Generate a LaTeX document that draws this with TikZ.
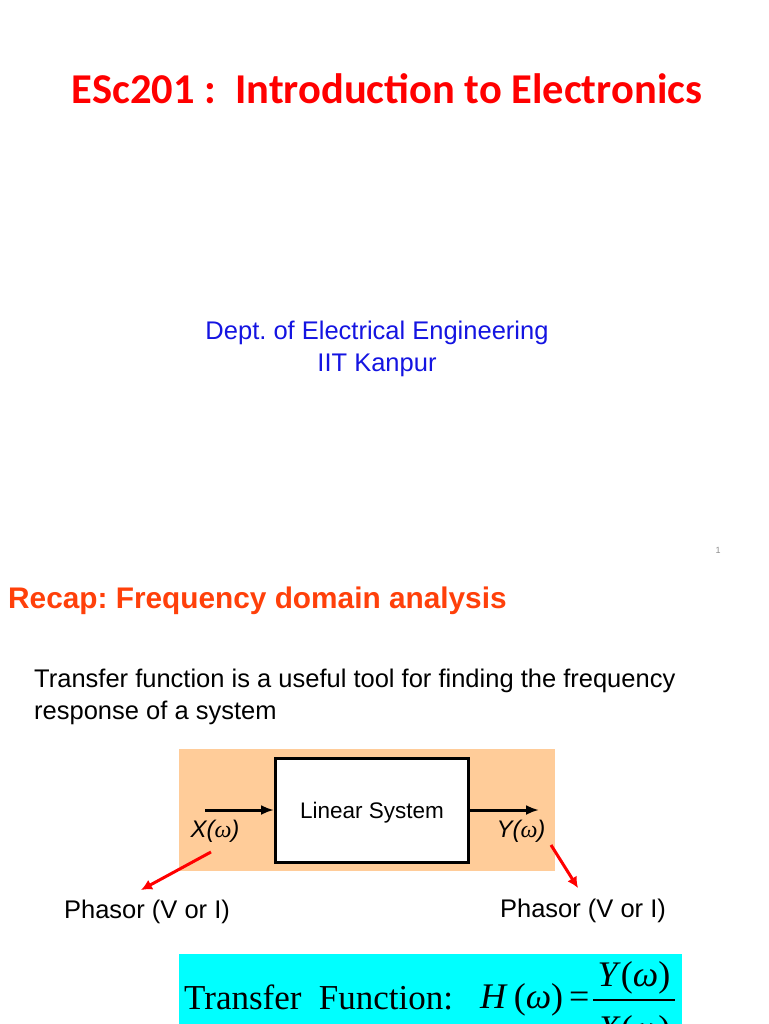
\documentclass[tikz,border=0pt]{standalone}
\usepackage{amsmath}
\usepackage{fontspec}
\usepackage{xcolor}
\setmainfont{Liberation Sans}
\newfontfamily\titlefont{Carlito}
\newfontfamily\formulafont{Liberation Serif}
\usepackage{tikz}
\usetikzlibrary{positioning, arrows.meta}
\definecolor{titlered}{RGB}{255,0,0}
\definecolor{deptblue}{RGB}{20,20,225}
\definecolor{recaporange}{RGB}{255,64,10}
\definecolor{blockpeach}{RGB}{255,204,153}
\definecolor{formulacyan}{RGB}{0,255,255}
\frenchspacing
\tikzset{
	bodytext/.style={inner sep=0pt, font=\fontsize{25.5}{32}\selectfont, align=left},
	signal/.style={inner sep=0pt, font=\fontsize{24}{28}\selectfont\itshape},
	mathtext/.style={inner sep=0pt, font=\formulafont\fontsize{36}{42}\selectfont},
	flow/.style={line width=3pt, -{Latex[length=13pt,width=10pt]}},
	pointer/.style={red, line width=3pt, -{Latex[length=11pt,width=11pt]}},
}
\newcommand{\omg}{{\formulafont\itshape ω}}
\begin{document}
\begin{tikzpicture}[x=1pt,y=-1pt]
	\useasboundingbox (0,0) rectangle (768,1024);
	\clip (0,0) rectangle (768,1024);
	\node (title) at (387,89) [inner sep=0pt, text=titlered, font=\titlefont\bfseries\fontsize{42.5}{50}\selectfont] {ESc201 :\ \ Introduction to Electronics};
	\node (dept) at (377,349) [inner sep=0pt, text=deptblue, align=center, font=\fontsize{25.5}{31.5}\selectfont] {Dept. of Electrical Engineering\\IIT Kanpur};
	\node (pagenum) at (718,550) [inner sep=0pt, text=black!45, font=\fontsize{9}{11}\selectfont] {1};
	\node (recap) at (8,601) [anchor=west, inner sep=0pt, text=recaporange, font=\bfseries\fontsize{29.8}{36}\selectfont] {Recap: Frequency domain analysis};
	\node (intro) at (34,697) [anchor=west, bodytext] {Transfer function is a useful tool for finding the frequency\\response of a system};
	%
	\fill[blockpeach] (179,749) rectangle (555,871);
	\node (system) at (372,810) [draw, fill=white, line width=3pt, minimum width=193pt, minimum height=104pt, inner sep=0pt, text depth=0pt, font=\fontsize{22.5}{26}\selectfont] {Linear System};
	\coordinate (xin) at (205,810);
	\coordinate (yout) at (539,810);
	\draw[flow] (xin) -- (system.west);
	\draw[flow] (system.east) -- (yout);
	\node (xsig) at (215,831) [signal] {X(\omg)};
	\node (ysig) at (521,831) [signal] {Y(\omg)};
	%
	\node (phasorx) at (147,912) [bodytext] {Phasor (V or I)};
	\node (phasory) at (583,911) [bodytext] {Phasor (V or I)};
	\coordinate (xtail) at (211,852);
	\coordinate (xhead) at (141,890);
	\coordinate (ytail) at (551,845);
	\coordinate (yhead) at (578,888);
	\draw[pointer] (xtail) -- (xhead);
	\draw[pointer] (ytail) -- (yhead);
	%
	\fill[formulacyan] (179,954) rectangle (682,1024);
	\node (formula) at (184,997) [anchor=west, inner sep=0pt, font=\formulafont\fontsize{35}{42}\selectfont] {Transfer\ \ Function:};
	\node (hfunc) at (480,1008) [anchor=base west, mathtext] {\textit{H}\,(\omg)\,=};
	\node (numer) at (634,986) [anchor=base, mathtext] {\textit{Y}(\omg)};
	\node (denom) at (634,1040) [anchor=base, mathtext] {\textit{X}(\omg)};
	\coordinate (barl) at (593,1000);
	\coordinate (barr) at (675,1000);
	\draw[line width=1.5pt] (barl) -- (barr);
\end{tikzpicture}
\end{document}
